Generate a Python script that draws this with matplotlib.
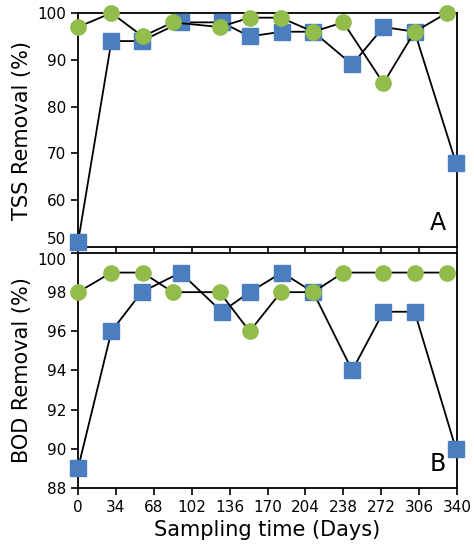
import matplotlib
matplotlib.use("Agg")
import matplotlib.pyplot as plt

days_sq = [0, 30, 57, 92, 129, 154, 183, 211, 246, 274, 302, 339]
days_ci = [0, 30, 58, 85, 127, 154, 182, 211, 238, 274, 302, 331]
tss_sq = [51, 94, 94, 98, 98, 95, 96, 96, 89, 97, 96, 68]
tss_ci = [97, 100, 95, 98, 97, 99, 99, 96, 98, 85, 96, 100]
bod_sq = [89, 96, 98, 99, 97, 98, 99, 98, 94, 97, 97, 90]
bod_ci = [98, 99, 99, 98, 98, 96, 98, 98, 99, 99, 99, 99]
xticks = [0, 34, 68, 102, 136, 170, 204, 238, 272, 306, 340]

W, H = 474, 555
fig = plt.figure(figsize=(W/100, H/100), dpi=100)
L, R = 78/W, (457-78)/W
ax1 = fig.add_axes([L, 1-247/H, R, (247-13)/H])
ax2 = fig.add_axes([L, 1-488/H, R, (488-253)/H])

blue = "#4a7ebf"; green = "#92bc4b"
for ax, sq, ci, lim, ticks, lab, letter in [
    (ax1, tss_sq, tss_ci, (50, 100), range(50, 101, 10), "TSS Removal (%)", "A"),
    (ax2, bod_sq, bod_ci, (88, 100), range(88, 101, 2), "BOD Removal (%)", "B")]:
    ax.plot(days_sq, sq, color="black", lw=1.3, marker="s", ms=11, mfc=blue, mec=blue, zorder=3, clip_on=False)
    ax.plot(days_ci, ci, color="black", lw=1.3, marker="o", ms=11, mfc=green, mec=green, zorder=4, clip_on=False)
    ax.set_xlim(0, 340)
    ax.set_ylim(*lim)
    ax.set_yticks(list(ticks))
    ax.set_xticks(xticks)
    ax.set_ylabel(lab, fontsize=15)
    ax.tick_params(labelsize=11, direction="out", length=5, width=1.2)
    for s in ax.spines.values():
        s.set_linewidth(1.3)
    ax.text(0.97, 0.05, letter, transform=ax.transAxes, ha="right", va="bottom", fontsize=17)
ax1.tick_params(axis="x", labelbottom=False)
ax2.set_xlabel("Sampling time (Days)", fontsize=15)
fig.canvas.draw()
ax1.get_yticklabels()[0].set_va("bottom")
ax2.get_yticklabels()[-1].set_va("top")
fig.savefig("out.png", dpi=100)
